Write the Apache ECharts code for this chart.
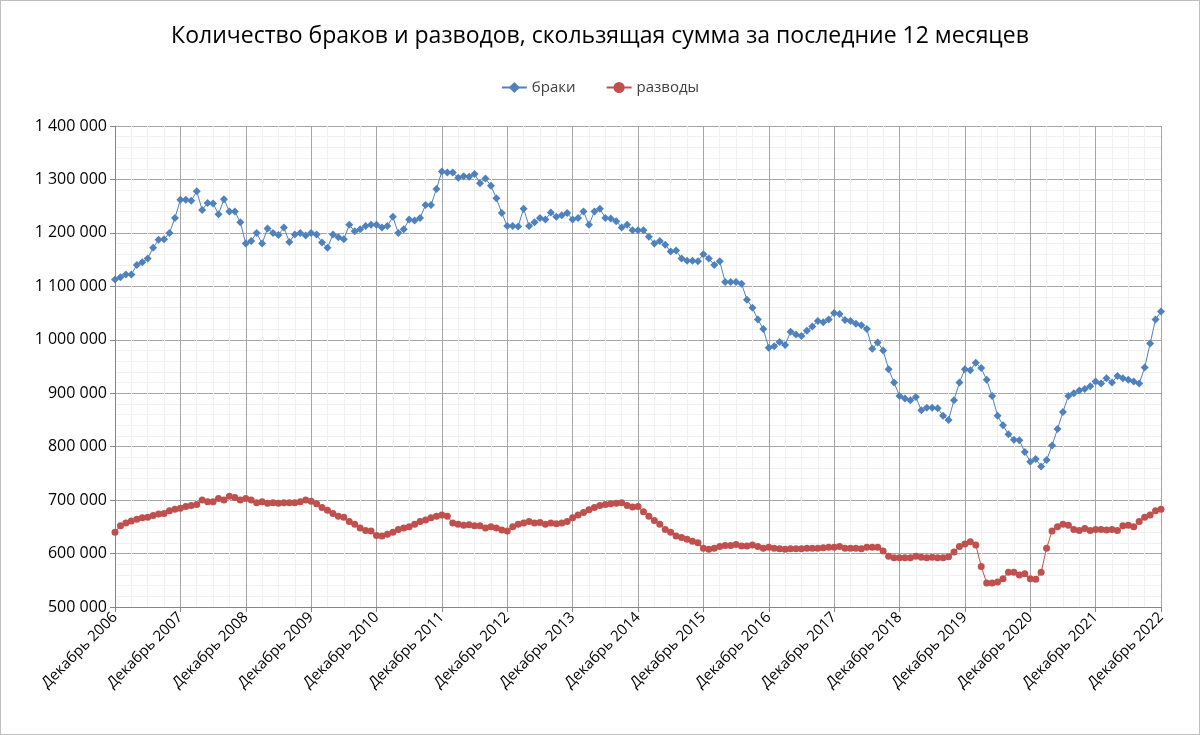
<!DOCTYPE html>
<html>
<head>
<meta charset="utf-8">
<script src="https://cdn.jsdelivr.net/npm/echarts@6/dist/echarts.min.js"></script>
<style>
  html, body { margin: 0; padding: 0; background: #fff; }
  #main { width: 1198px; height: 733px; border: 1px solid #bfbfbf; }
</style>
</head>
<body>
<div id="main"></div>
<script>
// месяцы от декабря 2006 до декабря 2022
var years = [2006, 2007, 2008, 2009, 2010, 2011, 2012, 2013, 2014, 2015, 2016, 2017, 2018, 2019, 2020, 2021, 2022];

// браки, тыс.
var marriages = [1113,
  1117,1122,1122,1140,1145,1152,1172,1187,1188,1200,1228,1262,
  1262,1260,1278,1243,1256,1255,1235,1263,1240,1240,1220,1180,
  1185,1200,1180,1208,1200,1196,1210,1183,1197,1200,1195,1200,
  1197,1182,1172,1197,1192,1188,1215,1203,1207,1213,1215,1215,
  1210,1213,1230,1200,1207,1225,1223,1228,1252,1252,1282,1315,
  1313,1313,1303,1306,1305,1310,1293,1302,1288,1265,1237,1213,
  1213,1212,1245,1213,1220,1228,1225,1238,1230,1233,1237,1225,
  1228,1240,1215,1240,1245,1228,1227,1222,1210,1215,1205,1205,
  1205,1193,1180,1185,1178,1165,1167,1152,1148,1148,1147,1160,
  1152,1140,1147,1108,1108,1108,1105,1075,1060,1038,1020,985,
  988,996,990,1015,1010,1007,1017,1025,1035,1033,1038,1050,
  1048,1037,1035,1030,1027,1020,983,995,980,945,920,895,
  890,887,893,868,873,873,872,858,850,887,920,945,
  943,957,947,925,895,858,840,823,813,812,790,772,
  777,763,775,802,833,865,895,900,905,908,913,922,
  918,928,920,932,928,925,922,918,948,993,1038,1053];

// разводы, тыс.
var divorces = [640,
  652,657,661,664,667,668,671,674,675,680,683,685,
  688,690,692,700,697,697,703,700,707,705,700,703,
  700,695,697,694,695,694,695,695,695,697,700,698,
  693,686,681,675,670,668,660,655,648,643,642,634,
  633,636,640,645,648,650,655,660,663,667,670,672,
  670,657,655,653,654,652,652,648,650,648,644,642,
  650,655,657,660,657,658,655,657,656,657,660,667,
  672,677,682,686,690,692,693,694,695,690,687,688,
  678,670,662,655,645,640,633,630,627,623,620,610,
  608,610,613,615,615,617,614,614,616,613,610,612,
  610,609,608,609,609,609,610,610,610,611,612,612,
  613,610,610,610,609,612,612,612,605,595,592,592,
  592,592,595,593,592,593,592,592,594,603,613,618,
  622,616,576,545,545,547,553,565,565,560,562,553,
  552,565,610,642,650,655,653,645,643,647,643,645,
  645,644,645,643,652,653,650,660,668,672,680,683];

var toPoints = function(arr) {
  return arr.map(function(v, i) { return [i, v * 1000]; });
};

var fmt = function(v) {
  return String(v).replace(/\B(?=(\d{3})+(?!\d))/g, ' ');
};

var myChart = echarts.init(document.getElementById('main'));
myChart.setOption({
  animation: false,
  textStyle: { fontFamily: 'Open Sans' },
  title: {
    text: 'Количество браков и разводов, скользящая сумма за последние 12 месяцев',
    left: 'center',
    top: 19,
    textStyle: { fontSize: 23, fontWeight: 'normal', color: '#000' }
  },
  legend: {
    top: 74,
    left: 'center',
    itemGap: 30,
    textStyle: { fontSize: 15, color: '#404040' },
    data: ['браки', 'разводы']
  },
  grid: { left: 114, right: 38, top: 125, bottom: 127 },
  xAxis: {
    type: 'value',
    min: 0,
    max: 192,
    interval: 12,
    axisLine: { lineStyle: { color: '#868686' } },
    axisTick: { show: true, length: 5, lineStyle: { color: '#868686' } },
    axisLabel: {
      rotate: 45,
      fontSize: 15,
      color: '#000',
      formatter: function(v) { return 'Декабрь ' + years[v / 12]; }
    },
    splitLine: { show: true, lineStyle: { color: '#a6a6a6', width: 1 } },
    minorTick: { show: false, splitNumber: 4 },
    minorSplitLine: { show: true, lineStyle: { color: '#f0f0f0' } }
  },
  yAxis: {
    type: 'value',
    min: 500000,
    max: 1400000,
    interval: 100000,
    axisLine: { show: true, lineStyle: { color: '#868686' } },
    axisTick: { show: true, lineStyle: { color: '#868686' } },
    axisLabel: { fontSize: 16, color: '#000', formatter: fmt },
    splitLine: { lineStyle: { color: '#a6a6a6' } },
    minorTick: { show: false, splitNumber: 5 },
    minorSplitLine: { show: true, lineStyle: { color: '#f0f0f0' } }
  },
  series: [
    {
      name: 'браки',
      type: 'line',
      data: toPoints(marriages),
      symbol: 'diamond',
      symbolSize: 8,
      itemStyle: { color: '#4f81bd' },
      lineStyle: { width: 1, color: '#4f81bd' }
    },
    {
      name: 'разводы',
      type: 'line',
      data: toPoints(divorces),
      symbol: 'circle',
      symbolSize: 7,
      itemStyle: { color: '#c0504d' },
      lineStyle: { width: 1, color: '#c0504d' }
    }
  ]
});
</script>
</body>
</html>
